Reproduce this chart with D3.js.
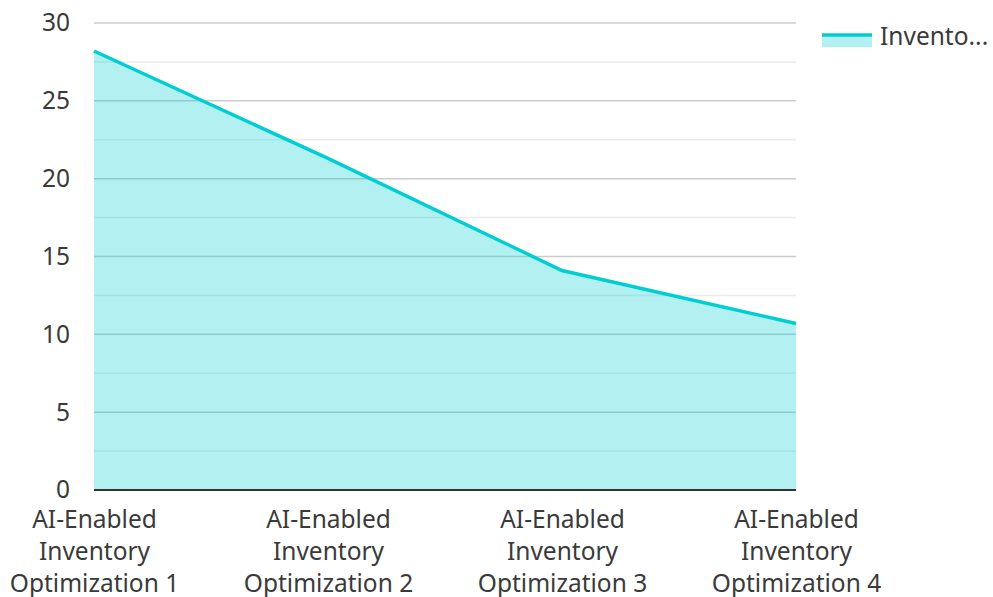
<!DOCTYPE html>
<html><head><meta charset="utf-8">
<script src="https://cdn.jsdelivr.net/npm/d3@7"></script>
<style>body{margin:0;background:#fff;font-family:"Noto Sans",sans-serif;}</style>
</head><body><svg id="c" width="993" height="597"></svg>
<script>
const categories = ["AI-Enabled Inventory Optimization 1","AI-Enabled Inventory Optimization 2","AI-Enabled Inventory Optimization 3","AI-Enabled Inventory Optimization 4"];
const seriesName = "Inventory";
const values = [28.2, 21.3, 14.1, 10.7];
const yTicks = [0,5,10,15,20,25,30];
const yMinor = [2.5,7.5,12.5,17.5,22.5,27.5];

const svg = d3.select("#c");
const m = {l:94, r:796, t:23, b:490};
const x = d3.scalePoint().domain(categories).range([m.l, m.r]);
const y = d3.scaleLinear().domain([0,30]).range([m.b, m.t]);

const g = svg.append("g");
g.selectAll(".minor").data(yMinor).join("line")
  .attr("x1",m.l).attr("x2",m.r).attr("y1",d=>y(d)).attr("y2",d=>y(d))
  .attr("stroke","#ebebeb").attr("stroke-width",1.5);
g.selectAll(".major").data(yTicks.filter(d=>d>0)).join("line")
  .attr("x1",m.l).attr("x2",m.r).attr("y1",d=>y(d)).attr("y2",d=>y(d))
  .attr("stroke","#cccccc").attr("stroke-width",1.5);

const area = d3.area().x((d,i)=>x(categories[i])).y0(y(0)).y1(d=>y(d));
const line = d3.line().x((d,i)=>x(categories[i])).y(d=>y(d));
g.append("path").datum(values).attr("d",area).attr("fill","rgb(0,206,209)").attr("fill-opacity",0.3);
g.append("path").datum(values).attr("d",line).attr("fill","none").attr("stroke","rgb(0,206,209)").attr("stroke-width",3.5);

g.append("line").attr("x1",m.l).attr("x2",m.r).attr("y1",y(0)).attr("y2",y(0)).attr("stroke","#333").attr("stroke-width",2);

const yAxis = d3.axisLeft(y).tickValues(yTicks).tickSize(0).tickPadding(24);
const ya = svg.append("g").attr("transform",`translate(${m.l},0)`).call(yAxis);
ya.select(".domain").remove();
ya.selectAll("text").attr("font-family","'Noto Sans',sans-serif").attr("font-size",24.5).attr("fill","#3a3a3a");

const xa = svg.append("g").attr("transform",`translate(0,${m.b})`).call(d3.axisBottom(x).tickSize(0).tickFormat(""));
xa.select(".domain").remove();
xa.selectAll(".tick").each(function(d){
  const words = d.split(" ");
  const lines = [words[0], words[1], words.slice(2).join(" ")];
  const t = d3.select(this).append("text").attr("fill","#3a3a3a").attr("font-family","'Noto Sans',sans-serif")
    .attr("font-size",24.5).attr("text-anchor","middle");
  lines.forEach((l,i)=>t.append("tspan").attr("x",0).attr("y",38+i*32).text(l));
});

const lg = svg.append("g");
lg.append("rect").attr("x",822).attr("y",35).attr("width",50).attr("height",12).attr("fill","rgb(0,206,209)").attr("fill-opacity",0.3);
lg.append("line").attr("x1",822).attr("x2",872).attr("y1",35).attr("y2",35).attr("stroke","rgb(0,206,209)").attr("stroke-width",3.5);
lg.append("text").attr("x",880).attr("y",45).attr("font-family","'Noto Sans',sans-serif").attr("font-size",24.5).attr("fill","#3a3a3a").text("Invento...");
</script></body></html>
